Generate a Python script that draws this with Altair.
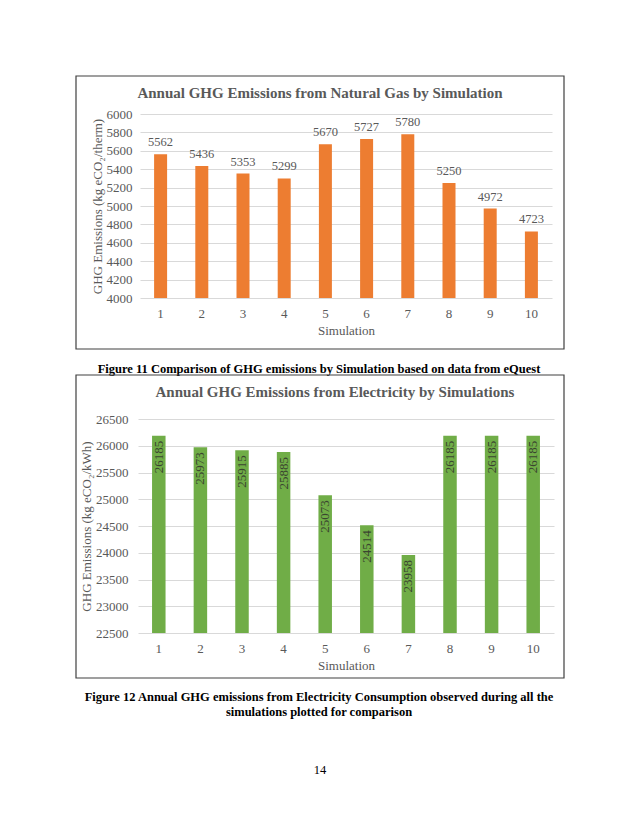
import altair as alt
import pandas as pd

simulations = ["1", "2", "3", "4", "5", "6", "7", "8", "9", "10"]
gas_values = [5562, 5436, 5353, 5299, 5670, 5727, 5780, 5250, 4972, 4723]
elec_values = [26185, 25973, 25915, 25885, 25073, 24514, 23958, 26185, 26185, 26185]
gas_ticks = [4000, 4200, 4400, 4600, 4800, 5000, 5200, 5400, 5600, 5800, 6000]
elec_ticks = [22500, 23000, 23500, 24000, 24500, 25000, 25500, 26000, 26500]

gas_title = "Annual GHG Emissions from Natural Gas by Simulation"
elec_title = "Annual GHG Emissions from Electricity by Simulations"
gas_ytitle = "GHG Emissions (kg eCO\u2082/therm)"
elec_ytitle = "GHG Emissions  (kg eCO\u2082/kWh)"
x_title = "Simulation"
caption11 = "Figure 11 Comparison of GHG emissions by Simulation based on data from eQuest"
caption12a = "Figure 12 Annual GHG emissions from Electricity Consumption observed during all the"
caption12b = "simulations plotted for comparison"
page_no = "14"

FONT = "Liberation Serif"
GRAY = "#595959"

gas_df = pd.DataFrame({"Simulation": simulations, "Value": gas_values})
elec_df = pd.DataFrame({"Simulation": simulations, "Value": elec_values})
one = pd.DataFrame({"a": [0]})


def x_enc():
    return alt.X(
        "Simulation:N", sort=simulations,
        scale=alt.Scale(paddingInner=0.0, paddingOuter=0.0),
        axis=alt.Axis(title=x_title, labelAngle=0, ticks=False, domain=False,
                      labelPadding=9, titlePadding=4, labelFont=FONT, titleFont=FONT,
                      labelFontSize=13, titleFontSize=13, labelColor=GRAY,
                      titleColor=GRAY, titleFontWeight="normal", grid=False),
    )


def y_axis(title, ticks, label_pad, title_x):
    return alt.Axis(title=title, values=ticks, format="d", ticks=False, domain=False,
                    labelPadding=label_pad, labelFont=FONT, titleFont=FONT,
                    labelFontSize=13, titleFontSize=13, labelColor=GRAY,
                    titleColor=GRAY, titleFontWeight="normal", gridColor="#d9d9d9",
                    titleX=title_x, titleBaseline="middle", titleAngle=270,
                    titleAlign="center")


def text_layer(txt, x, y, size, bold, color, font=FONT):
    return alt.Chart(one).mark_text(
        font=font, fontSize=size, fontWeight="bold" if bold else "normal",
        color=color, align="center", baseline="middle"
    ).encode(x=alt.value(x), y=alt.value(y), text=alt.value(txt))


def frame_layer(x, x2, y, y2):
    return alt.Chart(one).mark_rect(
        fill="transparent", stroke="#404040", strokeWidth=1.2
    ).encode(x=alt.value(x), x2=alt.value(x2), y=alt.value(y), y2=alt.value(y2))


# ---------- Chart 1 ----------
gas_base = alt.Chart(gas_df).encode(
    x=x_enc(),
    y=alt.Y("Value:Q", scale=alt.Scale(domain=[4000, 6000], zero=False, nice=False),
            axis=y_axis(gas_ytitle, gas_ticks, 8, -43)),
)
gas_bars = gas_base.mark_bar(size=13, color="#ED7D31").encode(y2=alt.datum(4000))
gas_labels = gas_base.mark_text(font=FONT, fontSize=12.5, color=GRAY,
                                baseline="bottom", dy=-5).encode(text="Value:Q")

chart1 = alt.layer(
    frame_layer(-64, 424, -38, 235),
    gas_bars, gas_labels,
    text_layer(gas_title, 180, -21, 15, True, GRAY),
    text_layer(caption11, 179, 255, 12.5, True, "#000000"),
).properties(width=412, height=184)

# ---------- Chart 2 ----------
elec_base = alt.Chart(elec_df).encode(
    x=x_enc(),
    y=alt.Y("Value:Q", scale=alt.Scale(domain=[22500, 26500], zero=False, nice=False),
            axis=y_axis(elec_ytitle, elec_ticks, 10, -52)),
)
elec_bars = elec_base.mark_bar(size=13.5, color="#70AD47").encode(y2=alt.datum(22500))
elec_labels = elec_base.mark_text(font=FONT, fontSize=13, color="#3a4530",
                                  angle=270, align="right", baseline="middle",
                                  dx=-5).encode(text="Value:Q")

chart2 = alt.layer(
    frame_layer(-62, 426, -44, 259),
    elec_bars, elec_labels,
    text_layer(elec_title, 197, -27, 15, True, GRAY),
    text_layer(caption12a, 181, 278, 12.5, True, "#000000"),
    text_layer(caption12b, 181, 293, 12.5, True, "#000000"),
    text_layer(page_no, 182, 351, 12.5, False, "#000000"),
).properties(width=416, height=214)

chart = alt.vconcat(chart1, chart2, spacing=121, bounds="flush", center=True).properties(
    padding={"left": 67, "top": 67, "right": 10, "bottom": 10},
    background="white",
).configure_view(stroke=None)

chart.save("out.html", embed_options={"renderer": "svg", "actions": False})
